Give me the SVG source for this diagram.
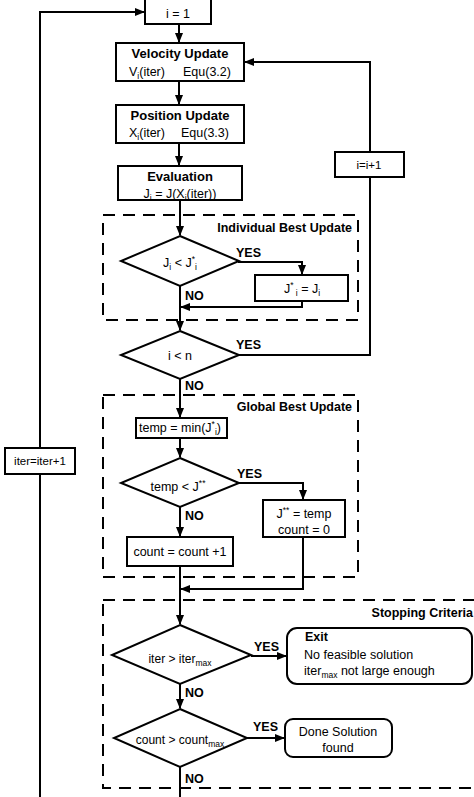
<svg xmlns="http://www.w3.org/2000/svg" width="474" height="797" viewBox="0 0 474 797">
<style>
text{font-family:"Liberation Sans",Arial,sans-serif;font-size:12.5px;fill:#000}
.b{font-weight:bold;font-size:13px}
.lab{font-weight:bold;font-size:12.5px}
.box{fill:#fff;stroke:#000;stroke-width:2}
.dash{fill:none;stroke:#000;stroke-width:2;stroke-dasharray:12 8}
.c{fill:none;stroke:#000;stroke-width:2}
.m{text-anchor:middle}
.e{text-anchor:end}
.s{font-size:8.5px}
</style>
<defs>
<marker id="ah" markerWidth="10" markerHeight="8" refX="9" refY="4" orient="auto" markerUnits="userSpaceOnUse">
<path d="M0,0 L10,4 L0,8 Z" fill="#000"/>
</marker>
</defs>
<rect width="474" height="797" fill="#fff"/>
<g id="regions">
<g id="individual-best"><rect class="dash" x="103" y="215" width="255" height="105"/><text class="lab e" x="352" y="232">Individual Best Update</text></g>
<g id="global-best"><rect class="dash" x="103" y="395" width="255" height="182"/><text class="lab e" x="352" y="411">Global Best Update</text></g>
<g id="stopping"><rect class="dash" x="103" y="600" width="390" height="188"/><text class="lab e" x="473" y="617">Stopping Criteria</text></g>
</g>
<g id="connectors">
<path class="c" d="M40,797 V12 H144" marker-end="url(#ah)"/>
<path class="c" d="M179,24 V42" marker-end="url(#ah)"/>
<path class="c" d="M179,81 V104" marker-end="url(#ah)"/>
<path class="c" d="M179,143 V165" marker-end="url(#ah)"/>
<path class="c" d="M180,200 V235" marker-end="url(#ah)"/>
<path class="c" d="M238,262 H302 V274" marker-end="url(#ah)"/>
<path class="c" d="M302,301 V307 H181" marker-end="url(#ah)"/>
<path class="c" d="M180,286 V330" marker-end="url(#ah)"/>
<path class="c" d="M239,355 H370 V62 H245" marker-end="url(#ah)"/>
<path class="c" d="M180,379 V417" marker-end="url(#ah)"/>
<path class="c" d="M180,438 V457" marker-end="url(#ah)"/>
<path class="c" d="M238,483 H303 V499" marker-end="url(#ah)"/>
<path class="c" d="M180,507 V536" marker-end="url(#ah)"/>
<path class="c" d="M303,537 V589 H181" marker-end="url(#ah)"/>
<path class="c" d="M180,566 V624" marker-end="url(#ah)"/>
<path class="c" d="M251,656 H286" marker-end="url(#ah)"/>
<path class="c" d="M180,684 V708" marker-end="url(#ah)"/>
<path class="c" d="M247,738 H284" marker-end="url(#ah)"/>
<path class="c" d="M180,767 V797"/>
<text class="lab" x="236" y="257">YES</text>
<text class="lab" x="185" y="300">NO</text>
<text class="lab" x="236" y="349">YES</text>
<text class="lab" x="185" y="390">NO</text>
<text class="lab" x="237" y="478">YES</text>
<text class="lab" x="185" y="520">NO</text>
<text class="lab" x="254" y="651">YES</text>
<text class="lab" x="185" y="697">NO</text>
<text class="lab" x="253" y="731">YES</text>
<text class="lab" x="185" y="783">NO</text>
</g>
<g id="n-i1"><rect class="box" x="145" y="-5" width="66" height="29"/><text class="m" x="178" y="18">i = 1</text></g>
<g id="n-iterinc"><rect class="box" x="5" y="448" width="70" height="26"/><text class="m" x="40" y="465" style="font-size:11.5px">iter=iter+1</text></g>
<g id="n-iinc"><rect class="box" x="335" y="152" width="69" height="25"/><text class="m" x="369" y="169" style="font-size:11.5px">i=i+1</text></g>
<g id="n-velocity"><rect class="box" x="116" y="43" width="128" height="38"/><text class="b m" x="180" y="58">Velocity Update</text><text x="129" y="76">V<tspan class="s" dy="3">i</tspan><tspan dy="-3">(iter)</tspan></text><text x="183" y="76">Equ(3.2)</text></g>
<g id="n-position"><rect class="box" x="116" y="105" width="128" height="38"/><text class="b m" x="180" y="120">Position Update</text><text x="129" y="137">X<tspan class="s" dy="3">i</tspan><tspan dy="-3">(iter)</tspan></text><text x="181" y="137">Equ(3.3)</text></g>
<g id="n-eval"><rect class="box" x="118" y="166" width="124" height="34"/><text class="b m" x="180" y="181">Evaluation</text><text class="m" x="180" y="198">J<tspan class="s" dy="3">i</tspan><tspan dy="-3"> = J(X</tspan><tspan class="s" dy="3">i</tspan><tspan dy="-3">(iter))</tspan></text></g>
<g id="n-d1"><polygon class="box" points="180,236 239,261 180,286 121,261"/><text class="m" x="180" y="267">J<tspan class="s" dy="3">i</tspan><tspan dy="-3"> &lt; J</tspan><tspan class="s" dy="-5">*</tspan><tspan class="s" dy="8">i</tspan></text></g>
<g id="n-jstar"><rect class="box" x="255" y="275" width="93" height="26"/><text class="m" x="302" y="293">J<tspan class="s" dy="-5">*</tspan><tspan class="s" dy="8"> i</tspan><tspan dy="-3"> = J</tspan><tspan class="s" dy="3">i</tspan></text></g>
<g id="n-d2"><polygon class="box" points="180,331 239,355 180,379 121,355"/><text class="m" x="180" y="360">i &lt; n</text></g>
<g id="n-temp"><rect class="box" x="136" y="418" width="91" height="20"/><text x="139" y="432">temp = min(J<tspan class="s" dy="-5">*</tspan><tspan class="s" dy="8">i</tspan><tspan dy="-3">)</tspan></text></g>
<g id="n-d3"><polygon class="box" points="180,458 239,483 180,507 121,483"/><text class="m" x="178" y="491">temp &lt; J<tspan class="s" dy="-5">**</tspan></text></g>
<g id="n-jss"><rect class="box" x="263" y="500" width="82" height="37"/><text class="m" x="304" y="518">J<tspan class="s" dy="-5">**</tspan><tspan dy="5"> = temp</tspan></text><text class="m" x="304" y="534">count = 0</text></g>
<g id="n-count"><rect class="box" x="127" y="537" width="106" height="29"/><text class="m" x="180" y="556">count = count +1</text></g>
<g id="n-d4"><polygon class="box" points="180,625 251,655 180,684 112,655"/><text class="m" x="180" y="663" style="font-size:12px">iter &gt; iter<tspan class="s" dy="3">max</tspan></text></g>
<g id="n-exit"><rect class="box" x="287" y="628" width="185" height="56" rx="10"/><text class="lab" x="305" y="641">Exit</text><text x="304" y="659">No feasible solution</text><text x="304" y="675">iter<tspan class="s" dy="3">max</tspan><tspan dy="-3"> not large enough</tspan></text></g>
<g id="n-d5"><polygon class="box" points="180,709 247,738 180,767 114,738"/><text class="m" x="180" y="744" style="font-size:12px">count &gt; count<tspan class="s" dy="3">max</tspan></text></g>
<g id="n-done"><rect class="box" x="285" y="719" width="107" height="38" rx="8"/><text class="m" x="338" y="736">Done Solution</text><text class="m" x="338" y="752">found</text></g>
</svg>
